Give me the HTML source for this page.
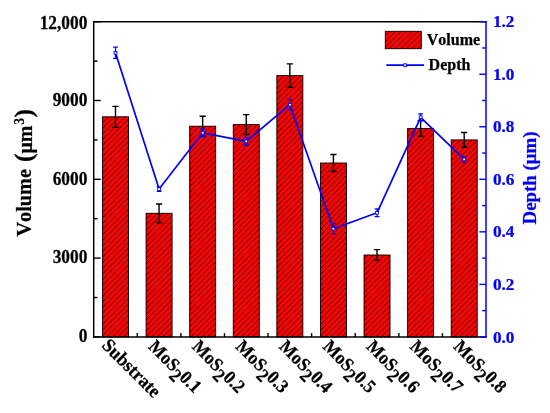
<!DOCTYPE html>
<html><head><meta charset="utf-8"><title>Chart</title><style>html,body{margin:0;padding:0;background:#fff;overflow:hidden}svg{display:block}</style></head><body>
<svg width="550" height="413" viewBox="0 0 550 413" style="display:block">
<defs><clipPath id="bc"><rect x="102.49" y="116.80" width="26.0" height="220.10"/><rect x="146.08" y="213.30" width="26.0" height="123.60"/><rect x="189.67" y="126.20" width="26.0" height="210.70"/><rect x="233.26" y="124.60" width="26.0" height="212.30"/><rect x="276.85" y="75.60" width="26.0" height="261.30"/><rect x="320.44" y="163.00" width="26.0" height="173.90"/><rect x="364.03" y="255.00" width="26.0" height="81.90"/><rect x="407.62" y="128.40" width="26.0" height="208.50"/><rect x="451.21" y="139.90" width="26.0" height="197.00"/><rect x="385.3" y="31.3" width="36" height="17.4"/></clipPath></defs>
<rect width="550" height="413" fill="#fff"/>
<rect x="102.49" y="116.80" width="26.0" height="220.10" fill="#ff0000"/>
<rect x="146.08" y="213.30" width="26.0" height="123.60" fill="#ff0000"/>
<rect x="189.67" y="126.20" width="26.0" height="210.70" fill="#ff0000"/>
<rect x="233.26" y="124.60" width="26.0" height="212.30" fill="#ff0000"/>
<rect x="276.85" y="75.60" width="26.0" height="261.30" fill="#ff0000"/>
<rect x="320.44" y="163.00" width="26.0" height="173.90" fill="#ff0000"/>
<rect x="364.03" y="255.00" width="26.0" height="81.90" fill="#ff0000"/>
<rect x="407.62" y="128.40" width="26.0" height="208.50" fill="#ff0000"/>
<rect x="451.21" y="139.90" width="26.0" height="197.00" fill="#ff0000"/>
<rect x="385.3" y="31.3" width="36" height="17.4" fill="#ff0000"/>
<path d="M-236.90,338.90L92.00,10M-231.30,338.90L97.60,10M-225.70,338.90L103.20,10M-220.10,338.90L108.80,10M-214.50,338.90L114.40,10M-208.90,338.90L120.00,10M-203.30,338.90L125.60,10M-197.70,338.90L131.20,10M-192.10,338.90L136.80,10M-186.50,338.90L142.40,10M-180.90,338.90L148.00,10M-175.30,338.90L153.60,10M-169.70,338.90L159.20,10M-164.10,338.90L164.80,10M-158.50,338.90L170.40,10M-152.90,338.90L176.00,10M-147.30,338.90L181.60,10M-141.70,338.90L187.20,10M-136.10,338.90L192.80,10M-130.50,338.90L198.40,10M-124.90,338.90L204.00,10M-119.30,338.90L209.60,10M-113.70,338.90L215.20,10M-108.10,338.90L220.80,10M-102.50,338.90L226.40,10M-96.90,338.90L232.00,10M-91.30,338.90L237.60,10M-85.70,338.90L243.20,10M-80.10,338.90L248.80,10M-74.50,338.90L254.40,10M-68.90,338.90L260.00,10M-63.30,338.90L265.60,10M-57.70,338.90L271.20,10M-52.10,338.90L276.80,10M-46.50,338.90L282.40,10M-40.90,338.90L288.00,10M-35.30,338.90L293.60,10M-29.70,338.90L299.20,10M-24.10,338.90L304.80,10M-18.50,338.90L310.40,10M-12.90,338.90L316.00,10M-7.30,338.90L321.60,10M-1.70,338.90L327.20,10M3.90,338.90L332.80,10M9.50,338.90L338.40,10M15.10,338.90L344.00,10M20.70,338.90L349.60,10M26.30,338.90L355.20,10M31.90,338.90L360.80,10M37.50,338.90L366.40,10M43.10,338.90L372.00,10M48.70,338.90L377.60,10M54.30,338.90L383.20,10M59.90,338.90L388.80,10M65.50,338.90L394.40,10M71.10,338.90L400.00,10M76.70,338.90L405.60,10M82.30,338.90L411.20,10M87.90,338.90L416.80,10M93.50,338.90L422.40,10M99.10,338.90L428.00,10M104.70,338.90L433.60,10M110.30,338.90L439.20,10M115.90,338.90L444.80,10M121.50,338.90L450.40,10M127.10,338.90L456.00,10M132.70,338.90L461.60,10M138.30,338.90L467.20,10M143.90,338.90L472.80,10M149.50,338.90L478.40,10M155.10,338.90L484.00,10M160.70,338.90L489.60,10M166.30,338.90L495.20,10M171.90,338.90L500.80,10M177.50,338.90L506.40,10M183.10,338.90L512.00,10M188.70,338.90L517.60,10M194.30,338.90L523.20,10M199.90,338.90L528.80,10M205.50,338.90L534.40,10M211.10,338.90L540.00,10M216.70,338.90L545.60,10M222.30,338.90L551.20,10M227.90,338.90L556.80,10M233.50,338.90L562.40,10M239.10,338.90L568.00,10M244.70,338.90L573.60,10M250.30,338.90L579.20,10M255.90,338.90L584.80,10M261.50,338.90L590.40,10M267.10,338.90L596.00,10M272.70,338.90L601.60,10M278.30,338.90L607.20,10M283.90,338.90L612.80,10M289.50,338.90L618.40,10M295.10,338.90L624.00,10M300.70,338.90L629.60,10M306.30,338.90L635.20,10M311.90,338.90L640.80,10M317.50,338.90L646.40,10M323.10,338.90L652.00,10M328.70,338.90L657.60,10M334.30,338.90L663.20,10M339.90,338.90L668.80,10M345.50,338.90L674.40,10M351.10,338.90L680.00,10M356.70,338.90L685.60,10M362.30,338.90L691.20,10M367.90,338.90L696.80,10M373.50,338.90L702.40,10M379.10,338.90L708.00,10M384.70,338.90L713.60,10M390.30,338.90L719.20,10M395.90,338.90L724.80,10M401.50,338.90L730.40,10M407.10,338.90L736.00,10M412.70,338.90L741.60,10M418.30,338.90L747.20,10M423.90,338.90L752.80,10M429.50,338.90L758.40,10M435.10,338.90L764.00,10M440.70,338.90L769.60,10M446.30,338.90L775.20,10M451.90,338.90L780.80,10M457.50,338.90L786.40,10M463.10,338.90L792.00,10M468.70,338.90L797.60,10M474.30,338.90L803.20,10M479.90,338.90L808.80,10" stroke="#140000" stroke-width="0.75" fill="none" clip-path="url(#bc)"/>
<rect x="102.49" y="116.80" width="26.0" height="220.10" fill="none" stroke="#000" stroke-width="0.9"/>
<rect x="146.08" y="213.30" width="26.0" height="123.60" fill="none" stroke="#000" stroke-width="0.9"/>
<rect x="189.67" y="126.20" width="26.0" height="210.70" fill="none" stroke="#000" stroke-width="0.9"/>
<rect x="233.26" y="124.60" width="26.0" height="212.30" fill="none" stroke="#000" stroke-width="0.9"/>
<rect x="276.85" y="75.60" width="26.0" height="261.30" fill="none" stroke="#000" stroke-width="0.9"/>
<rect x="320.44" y="163.00" width="26.0" height="173.90" fill="none" stroke="#000" stroke-width="0.9"/>
<rect x="364.03" y="255.00" width="26.0" height="81.90" fill="none" stroke="#000" stroke-width="0.9"/>
<rect x="407.62" y="128.40" width="26.0" height="208.50" fill="none" stroke="#000" stroke-width="0.9"/>
<rect x="451.21" y="139.90" width="26.0" height="197.00" fill="none" stroke="#000" stroke-width="0.9"/>
<path d="M115.49,106.40V127.20M112.39,106.40h6.2M112.39,127.20h6.2" stroke="#000" stroke-width="1.4" fill="none"/>
<path d="M159.08,204.00V222.60M155.98,204.00h6.2M155.98,222.60h6.2" stroke="#000" stroke-width="1.4" fill="none"/>
<path d="M202.67,116.20V136.20M199.57,116.20h6.2M199.57,136.20h6.2" stroke="#000" stroke-width="1.4" fill="none"/>
<path d="M246.26,114.60V134.60M243.16,114.60h6.2M243.16,134.60h6.2" stroke="#000" stroke-width="1.4" fill="none"/>
<path d="M289.85,63.90V87.30M286.75,63.90h6.2M286.75,87.30h6.2" stroke="#000" stroke-width="1.4" fill="none"/>
<path d="M333.44,154.50V171.50M330.34,154.50h6.2M330.34,171.50h6.2" stroke="#000" stroke-width="1.4" fill="none"/>
<path d="M377.03,249.60V260.40M373.93,249.60h6.2M373.93,260.40h6.2" stroke="#000" stroke-width="1.4" fill="none"/>
<path d="M420.62,120.60V136.20M417.52,120.60h6.2M417.52,136.20h6.2" stroke="#000" stroke-width="1.4" fill="none"/>
<path d="M464.21,132.50V147.30M461.11,132.50h6.2M461.11,147.30h6.2" stroke="#000" stroke-width="1.4" fill="none"/>
<path d="M93.7,336.9V21.7H486.0" stroke="#000" stroke-width="1.5" fill="none" stroke-linecap="square"/>
<path d="M93.7,336.9H486.0" stroke="#000" stroke-width="1.5" fill="none" stroke-linecap="square"/>
<path d="M93.7,336.90h7.0" stroke="#000" stroke-width="1.4"/>
<path d="M93.7,297.50h3.9" stroke="#000" stroke-width="1.4"/>
<path d="M93.7,258.10h7.0" stroke="#000" stroke-width="1.4"/>
<path d="M93.7,218.70h3.9" stroke="#000" stroke-width="1.4"/>
<path d="M93.7,179.30h7.0" stroke="#000" stroke-width="1.4"/>
<path d="M93.7,139.90h3.9" stroke="#000" stroke-width="1.4"/>
<path d="M93.7,100.50h7.0" stroke="#000" stroke-width="1.4"/>
<path d="M93.7,61.10h3.9" stroke="#000" stroke-width="1.4"/>
<path d="M93.7,21.70h7.0" stroke="#000" stroke-width="1.4"/>
<path d="M137.29,336.9v-3.8" stroke="#000" stroke-width="1.4"/>
<path d="M180.88,336.9v-3.8" stroke="#000" stroke-width="1.4"/>
<path d="M224.47,336.9v-3.8" stroke="#000" stroke-width="1.4"/>
<path d="M268.06,336.9v-3.8" stroke="#000" stroke-width="1.4"/>
<path d="M311.64,336.9v-3.8" stroke="#000" stroke-width="1.4"/>
<path d="M355.23,336.9v-3.8" stroke="#000" stroke-width="1.4"/>
<path d="M398.82,336.9v-3.8" stroke="#000" stroke-width="1.4"/>
<path d="M442.41,336.9v-3.8" stroke="#000" stroke-width="1.4"/>
<path d="M486.0,336.9V21.7" stroke="#0000ff" stroke-width="1.5" fill="none" stroke-linecap="square"/>
<path d="M486.0,336.90h-6.7" stroke="#0000ff" stroke-width="1.4"/>
<path d="M486.0,310.63h-3.8" stroke="#0000ff" stroke-width="1.4"/>
<path d="M486.0,284.37h-6.7" stroke="#0000ff" stroke-width="1.4"/>
<path d="M486.0,258.10h-3.8" stroke="#0000ff" stroke-width="1.4"/>
<path d="M486.0,231.83h-6.7" stroke="#0000ff" stroke-width="1.4"/>
<path d="M486.0,205.57h-3.8" stroke="#0000ff" stroke-width="1.4"/>
<path d="M486.0,179.30h-6.7" stroke="#0000ff" stroke-width="1.4"/>
<path d="M486.0,153.03h-3.8" stroke="#0000ff" stroke-width="1.4"/>
<path d="M486.0,126.77h-6.7" stroke="#0000ff" stroke-width="1.4"/>
<path d="M486.0,100.50h-3.8" stroke="#0000ff" stroke-width="1.4"/>
<path d="M486.0,74.23h-6.7" stroke="#0000ff" stroke-width="1.4"/>
<path d="M486.0,47.97h-3.8" stroke="#0000ff" stroke-width="1.4"/>
<path d="M486.0,21.70h-6.7" stroke="#0000ff" stroke-width="1.4"/>
<polyline points="115.49,52.80 159.08,189.10 202.67,132.80 246.26,141.40 289.85,104.70 333.44,228.70 377.03,212.80 420.62,117.30 464.21,159.40" fill="none" stroke="#0000ff" stroke-width="1.7" stroke-linejoin="round"/>
<path d="M115.49,47.20V58.40M113.09,47.20h4.8M113.09,58.40h4.8" stroke="#0000ff" stroke-width="1.2" fill="none"/>
<rect x="114.09" y="51.40" width="2.8" height="2.8" fill="#fff" stroke="#0000ff" stroke-width="0.9"/>
<path d="M159.08,186.90V191.30M156.68,186.90h4.8M156.68,191.30h4.8" stroke="#0000ff" stroke-width="1.2" fill="none"/>
<rect x="157.68" y="187.70" width="2.8" height="2.8" fill="#fff" stroke="#0000ff" stroke-width="0.9"/>
<path d="M202.67,128.90V136.70M200.27,128.90h4.8M200.27,136.70h4.8" stroke="#0000ff" stroke-width="1.2" fill="none"/>
<rect x="201.27" y="131.40" width="2.8" height="2.8" fill="#fff" stroke="#0000ff" stroke-width="0.9"/>
<path d="M246.26,137.50V145.30M243.86,137.50h4.8M243.86,145.30h4.8" stroke="#0000ff" stroke-width="1.2" fill="none"/>
<rect x="244.86" y="140.00" width="2.8" height="2.8" fill="#fff" stroke="#0000ff" stroke-width="0.9"/>
<path d="M289.85,99.50V109.90M287.45,99.50h4.8M287.45,109.90h4.8" stroke="#0000ff" stroke-width="1.2" fill="none"/>
<rect x="288.45" y="103.30" width="2.8" height="2.8" fill="#fff" stroke="#0000ff" stroke-width="0.9"/>
<path d="M333.44,223.60V233.80M331.04,223.60h4.8M331.04,233.80h4.8" stroke="#0000ff" stroke-width="1.2" fill="none"/>
<rect x="332.04" y="227.30" width="2.8" height="2.8" fill="#fff" stroke="#0000ff" stroke-width="0.9"/>
<path d="M377.03,208.90V216.70M374.63,208.90h4.8M374.63,216.70h4.8" stroke="#0000ff" stroke-width="1.2" fill="none"/>
<rect x="375.63" y="211.40" width="2.8" height="2.8" fill="#fff" stroke="#0000ff" stroke-width="0.9"/>
<path d="M420.62,113.80V120.80M418.22,113.80h4.8M418.22,120.80h4.8" stroke="#0000ff" stroke-width="1.2" fill="none"/>
<rect x="419.22" y="115.90" width="2.8" height="2.8" fill="#fff" stroke="#0000ff" stroke-width="0.9"/>
<path d="M464.21,156.80V162.00M461.81,156.80h4.8M461.81,162.00h4.8" stroke="#0000ff" stroke-width="1.2" fill="none"/>
<rect x="462.81" y="158.00" width="2.8" height="2.8" fill="#fff" stroke="#0000ff" stroke-width="0.9"/>
<text transform="translate(87.40,342.20) scale(0.95,1)" text-anchor="end" font-family='"Liberation Serif", serif' font-weight="bold" font-size="18.3" fill="#000" stroke="#000" stroke-width="0.25" >0</text>
<text transform="translate(87.40,263.40) scale(0.95,1)" text-anchor="end" font-family='"Liberation Serif", serif' font-weight="bold" font-size="18.3" fill="#000" stroke="#000" stroke-width="0.25" >3000</text>
<text transform="translate(87.40,184.60) scale(0.95,1)" text-anchor="end" font-family='"Liberation Serif", serif' font-weight="bold" font-size="18.3" fill="#000" stroke="#000" stroke-width="0.25" >6000</text>
<text transform="translate(87.40,105.80) scale(0.95,1)" text-anchor="end" font-family='"Liberation Serif", serif' font-weight="bold" font-size="18.3" fill="#000" stroke="#000" stroke-width="0.25" >9000</text>
<text transform="translate(87.40,28.80) scale(0.95,1)" text-anchor="end" font-family='"Liberation Serif", serif' font-weight="bold" font-size="18.3" fill="#000" stroke="#000" stroke-width="0.25" >12,000</text>
<text transform="translate(492.90,342.50) scale(0.98,1)" text-anchor="start" font-family='"Liberation Serif", serif' font-weight="bold" font-size="17.5" fill="#0000ff" stroke="#0000ff" stroke-width="0.25" >0.0</text>
<text transform="translate(492.90,289.97) scale(0.98,1)" text-anchor="start" font-family='"Liberation Serif", serif' font-weight="bold" font-size="17.5" fill="#0000ff" stroke="#0000ff" stroke-width="0.25" >0.2</text>
<text transform="translate(492.90,237.43) scale(0.98,1)" text-anchor="start" font-family='"Liberation Serif", serif' font-weight="bold" font-size="17.5" fill="#0000ff" stroke="#0000ff" stroke-width="0.25" >0.4</text>
<text transform="translate(492.90,184.90) scale(0.98,1)" text-anchor="start" font-family='"Liberation Serif", serif' font-weight="bold" font-size="17.5" fill="#0000ff" stroke="#0000ff" stroke-width="0.25" >0.6</text>
<text transform="translate(492.90,132.37) scale(0.98,1)" text-anchor="start" font-family='"Liberation Serif", serif' font-weight="bold" font-size="17.5" fill="#0000ff" stroke="#0000ff" stroke-width="0.25" >0.8</text>
<text transform="translate(492.90,79.83) scale(0.98,1)" text-anchor="start" font-family='"Liberation Serif", serif' font-weight="bold" font-size="17.5" fill="#0000ff" stroke="#0000ff" stroke-width="0.25" >1.0</text>
<text transform="translate(492.90,27.30) scale(0.98,1)" text-anchor="start" font-family='"Liberation Serif", serif' font-weight="bold" font-size="17.5" fill="#0000ff" stroke="#0000ff" stroke-width="0.25" >1.2</text>
<text transform="translate(31.40,236.60) rotate(-90)" text-anchor="start" font-family='"Liberation Serif", serif' font-weight="bold" font-size="20.3" fill="#000" stroke="#000" stroke-width="0.25" style="font-kerning:none">Volume</text>
<text transform="translate(31.70,162.00) rotate(-90)" text-anchor="start" font-family='"Liberation Serif", serif' font-weight="bold" font-size="25.5" fill="#000" stroke="#000" stroke-width="0.25" >(</text>
<text transform="translate(32.00,153.50) rotate(-90) scale(0.97,1)" text-anchor="start" font-family='"Liberation Serif", serif' font-weight="bold" font-size="20.6" fill="#000" stroke="#000" stroke-width="0.25" >μm</text>
<text transform="translate(23.60,124.50) rotate(-90) scale(0.93,1)" text-anchor="start" font-family='"Liberation Serif", serif' font-weight="bold" font-size="13.8" fill="#000" stroke="#000" stroke-width="0.25" >3</text>
<text transform="translate(31.70,117.50) rotate(-90)" text-anchor="start" font-family='"Liberation Serif", serif' font-weight="bold" font-size="25.5" fill="#000" stroke="#000" stroke-width="0.25" >)</text>
<text transform="translate(536.00,224.50) rotate(-90)" text-anchor="start" font-family='"Liberation Serif", serif' font-weight="bold" font-size="18.9" fill="#0000ff" stroke="#0000ff" stroke-width="0.25" >Depth (μm)</text>
<text transform="translate(100.99,346.30) rotate(45) scale(0.95,1)" text-anchor="start" font-family='"Liberation Serif", serif' font-weight="bold" font-size="19" fill="#000" stroke="#000" stroke-width="0.25" >Substrate</text>
<text transform="translate(147.58,347.50) rotate(45) scale(0.94,1)" text-anchor="start" font-family='"Liberation Serif", serif' font-weight="bold" font-size="18.7" fill="#000" stroke="#000" stroke-width="0.25" >MoS<tspan dy="6.3">2</tspan><tspan dy="-6.3">0.1</tspan></text>
<text transform="translate(191.17,347.50) rotate(45) scale(0.94,1)" text-anchor="start" font-family='"Liberation Serif", serif' font-weight="bold" font-size="18.7" fill="#000" stroke="#000" stroke-width="0.25" >MoS<tspan dy="6.3">2</tspan><tspan dy="-6.3">0.2</tspan></text>
<text transform="translate(234.76,347.50) rotate(45) scale(0.94,1)" text-anchor="start" font-family='"Liberation Serif", serif' font-weight="bold" font-size="18.7" fill="#000" stroke="#000" stroke-width="0.25" >MoS<tspan dy="6.3">2</tspan><tspan dy="-6.3">0.3</tspan></text>
<text transform="translate(278.35,347.50) rotate(45) scale(0.94,1)" text-anchor="start" font-family='"Liberation Serif", serif' font-weight="bold" font-size="18.7" fill="#000" stroke="#000" stroke-width="0.25" >MoS<tspan dy="6.3">2</tspan><tspan dy="-6.3">0.4</tspan></text>
<text transform="translate(321.94,347.50) rotate(45) scale(0.94,1)" text-anchor="start" font-family='"Liberation Serif", serif' font-weight="bold" font-size="18.7" fill="#000" stroke="#000" stroke-width="0.25" >MoS<tspan dy="6.3">2</tspan><tspan dy="-6.3">0.5</tspan></text>
<text transform="translate(365.53,347.50) rotate(45) scale(0.94,1)" text-anchor="start" font-family='"Liberation Serif", serif' font-weight="bold" font-size="18.7" fill="#000" stroke="#000" stroke-width="0.25" >MoS<tspan dy="6.3">2</tspan><tspan dy="-6.3">0.6</tspan></text>
<text transform="translate(409.12,347.50) rotate(45) scale(0.94,1)" text-anchor="start" font-family='"Liberation Serif", serif' font-weight="bold" font-size="18.7" fill="#000" stroke="#000" stroke-width="0.25" >MoS<tspan dy="6.3">2</tspan><tspan dy="-6.3">0.7</tspan></text>
<text transform="translate(452.71,347.50) rotate(45) scale(0.94,1)" text-anchor="start" font-family='"Liberation Serif", serif' font-weight="bold" font-size="18.7" fill="#000" stroke="#000" stroke-width="0.25" >MoS<tspan dy="6.3">2</tspan><tspan dy="-6.3">0.8</tspan></text>
<rect x="385.3" y="31.3" width="36" height="17.4" fill="none" stroke="#000" stroke-width="0.9"/>
<text transform="translate(426.80,44.90)" text-anchor="start" font-family='"Liberation Serif", serif' font-weight="bold" font-size="16" fill="#000" stroke="#000" stroke-width="0.25" style="font-kerning:none">Volume</text>
<path d="M386.3,65.2H424" stroke="#0000ff" stroke-width="1.7"/>
<rect x="403.8" y="63.8" width="2.8" height="2.8" fill="#fff" stroke="#0000ff" stroke-width="0.9"/>
<text transform="translate(428.60,69.80)" text-anchor="start" font-family='"Liberation Serif", serif' font-weight="bold" font-size="16" fill="#000" stroke="#000" stroke-width="0.25" >Depth</text>
</svg>
</body></html>
